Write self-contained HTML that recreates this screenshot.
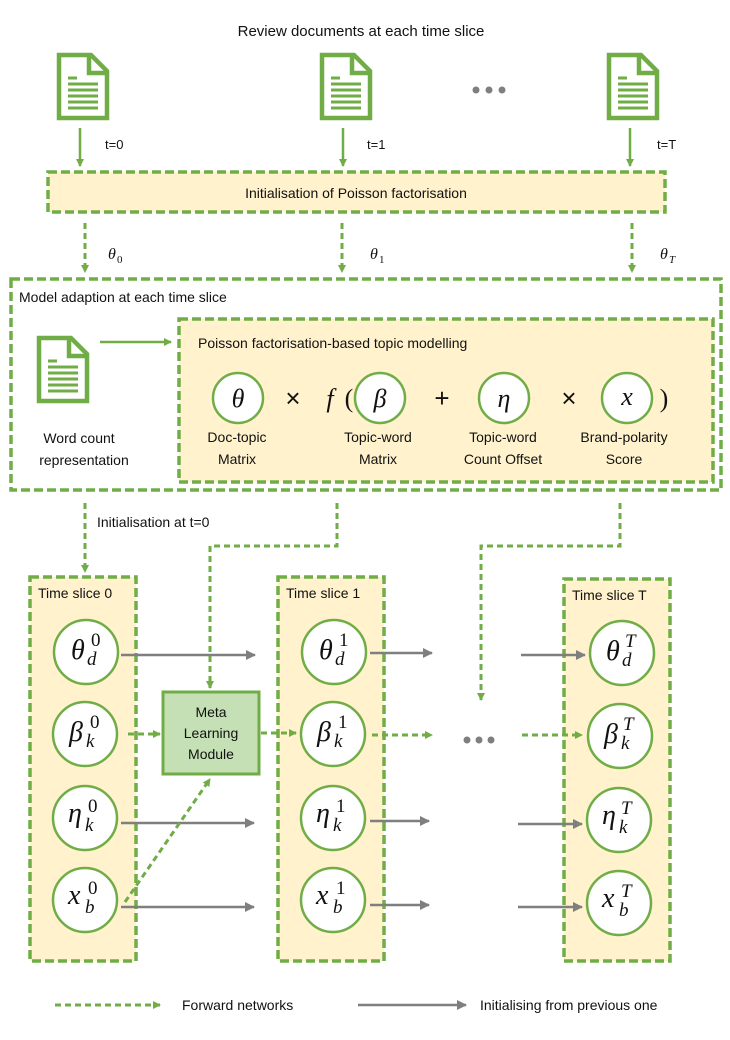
<!DOCTYPE html>
<html><head><meta charset="utf-8"><style>
html,body{margin:0;padding:0;background:#fff;}
svg{display:block;}
text{font-family:"Liberation Sans",sans-serif;fill:#111;}
.m{font-family:"Liberation Serif","DejaVu Serif",serif;font-style:italic;}
.n{font-family:"Liberation Serif","DejaVu Serif",serif;}
</style></head><body>
<svg width="730" height="1040" viewBox="0 0 730 1040" xmlns="http://www.w3.org/2000/svg">
<defs>
<marker id="ag" markerWidth="8" markerHeight="8" refX="7" refY="4" orient="auto" markerUnits="userSpaceOnUse"><path d="M0,0 L8,4 L0,8 z" fill="#70ad47"/></marker>
<marker id="ak" markerWidth="10" markerHeight="10" refX="9" refY="5" orient="auto" markerUnits="userSpaceOnUse"><path d="M0,0 L10,5 L0,10 z" fill="#7f7f7f"/></marker>
<g id="doc">
<path d="M2,2 H34 L50,18 V65 H2 Z" fill="#fff" stroke="#70ad47" stroke-width="4.5"/>
<path d="M32,2 V20 H50" fill="none" stroke="#70ad47" stroke-width="4.5"/>
<g stroke="#70ad47" stroke-width="3"><line x1="11" y1="25" x2="20" y2="25"/><line x1="11" y1="31" x2="41" y2="31"/><line x1="11" y1="37" x2="41" y2="37"/><line x1="11" y1="43" x2="41" y2="43"/><line x1="11" y1="49" x2="41" y2="49"/><line x1="11" y1="55" x2="41" y2="55"/></g>
</g>
</defs>
<text x="361" y="36" font-size="15" text-anchor="middle">Review documents at each time slice</text>
<use href="#doc" x="57" y="53"/>
<use href="#doc" x="320" y="53"/>
<use href="#doc" x="607" y="53"/>
<g fill="#7f7f7f"><circle cx="476" cy="90" r="3.5"/><circle cx="489" cy="90" r="3.5"/><circle cx="502" cy="90" r="3.5"/></g>
<g stroke="#70ad47" stroke-width="2.5" marker-end="url(#ag)">
<line x1="80" y1="128" x2="80" y2="166"/><line x1="343" y1="128" x2="343" y2="166"/><line x1="630" y1="128" x2="630" y2="166"/></g>
<text x="105" y="149" font-size="13">t=0</text><text x="367" y="149" font-size="13">t=1</text><text x="657" y="149" font-size="13">t=T</text>
<rect x="48" y="172" width="617" height="40" fill="#fff2cc" stroke="#70ad47" stroke-width="3.5" stroke-dasharray="9,4"/>
<text x="356" y="198" font-size="14" text-anchor="middle">Initialisation of Poisson factorisation</text>
<g stroke="#70ad47" stroke-width="3" stroke-dasharray="6,4" marker-end="url(#ag)">
<line x1="85" y1="223" x2="85" y2="272"/><line x1="342" y1="223" x2="342" y2="272"/><line x1="632" y1="223" x2="632" y2="272"/></g>
<text class="m" x="108" y="259" font-size="16">θ</text><text class="n" x="117" y="263" font-size="11">0</text>
<text class="m" x="370" y="259" font-size="16">θ</text><text class="n" x="379" y="263" font-size="11">1</text>
<text class="m" x="660" y="259" font-size="16">θ</text><text class="m" x="669" y="263" font-size="11">T</text>
<rect x="11" y="279" width="710" height="211" fill="#fff" stroke="#70ad47" stroke-width="3.5" stroke-dasharray="9,4"/>
<text x="19" y="302" font-size="14">Model adaption at each time slice</text>
<use href="#doc" x="37" y="336"/>
<line x1="100" y1="342" x2="171" y2="342" stroke="#70ad47" stroke-width="2.5" marker-end="url(#ag)"/>
<text x="79" y="443" font-size="14" text-anchor="middle">Word count</text>
<text x="84" y="465" font-size="14" text-anchor="middle">representation</text>
<rect x="179" y="319" width="534" height="163" fill="#fff2cc" stroke="#70ad47" stroke-width="3.5" stroke-dasharray="9,4"/>
<text x="198" y="348" font-size="14">Poisson factorisation-based topic modelling</text>
<g fill="#fff" stroke="#70ad47" stroke-width="2.5"><circle cx="238" cy="398" r="25"/><circle cx="380" cy="398" r="25"/><circle cx="504" cy="398" r="25"/><circle cx="627" cy="398" r="25"/></g>
<g font-size="26" text-anchor="middle">
<text class="m" x="238" y="407">θ</text><text class="m" x="380" y="407">β</text><text class="m" x="504" y="407">η</text><text class="m" x="627" y="405">x</text>
<text x="293" y="407">×</text><text x="442" y="407">+</text><text x="569" y="407">×</text>
<text class="m" x="330" y="407">f</text><text class="n" x="349" y="407">(</text><text class="n" x="664" y="407">)</text></g>
<g font-size="14" text-anchor="middle">
<text x="237" y="442">Doc-topic</text><text x="237" y="464">Matrix</text>
<text x="378" y="442">Topic-word</text><text x="378" y="464">Matrix</text>
<text x="503" y="442">Topic-word</text><text x="503" y="464">Count Offset</text>
<text x="624" y="442">Brand-polarity</text><text x="624" y="464">Score</text></g>
<g fill="none" stroke="#70ad47" stroke-width="3" stroke-dasharray="6,4">
<line x1="85" y1="503" x2="85" y2="572" marker-end="url(#ag)"/>
<path d="M337,503 V546 H210 V688" marker-end="url(#ag)"/>
<path d="M620,503 V546 H481 V700" marker-end="url(#ag)"/></g>
<text x="97" y="527" font-size="14">Initialisation at t=0</text>
<g fill="#fff2cc" stroke="#70ad47" stroke-width="3.5" stroke-dasharray="9,4">
<rect x="30" y="577" width="106" height="384"/><rect x="278" y="577" width="106" height="384"/><rect x="564" y="579" width="106" height="382"/></g>
<text x="38" y="598" font-size="14">Time slice 0</text><text x="286" y="598" font-size="14">Time slice 1</text><text x="572" y="600" font-size="14">Time slice T</text>
<rect x="163" y="692" width="96" height="82" fill="#c5e0b4" stroke="#70ad47" stroke-width="3"/>
<g font-size="14" text-anchor="middle"><text x="211" y="717">Meta</text><text x="211" y="738">Learning</text><text x="211" y="759">Module</text></g>
<g stroke="#7f7f7f" stroke-width="2.5" marker-end="url(#ak)">
<line x1="121" y1="655" x2="255" y2="655"/><line x1="121" y1="823" x2="254" y2="823"/><line x1="121" y1="907" x2="254" y2="907"/>
<line x1="370" y1="653" x2="432" y2="653"/><line x1="370" y1="821" x2="429" y2="821"/><line x1="370" y1="905" x2="429" y2="905"/>
<line x1="521" y1="655" x2="585" y2="655"/><line x1="518" y1="824" x2="582" y2="824"/><line x1="518" y1="907" x2="582" y2="907"/></g>
<g stroke="#70ad47" stroke-width="3" stroke-dasharray="6,4" marker-end="url(#ag)">
<line x1="128" y1="734" x2="160" y2="734"/><line x1="261" y1="733" x2="296" y2="733"/>
<line x1="372" y1="735" x2="432" y2="735"/><line x1="522" y1="735" x2="582" y2="735"/>
<line x1="125" y1="902" x2="210" y2="779"/></g>
<g fill="#7f7f7f"><circle cx="467" cy="740" r="3.5"/><circle cx="479" cy="740" r="3.5"/><circle cx="491" cy="740" r="3.5"/></g>
<g fill="#fff" stroke="#70ad47" stroke-width="2.5">
<circle cx="86" cy="652" r="32"/><circle cx="85" cy="734" r="32"/><circle cx="85" cy="818" r="32"/><circle cx="85" cy="900" r="32"/>
<circle cx="334" cy="652" r="32"/><circle cx="333" cy="734" r="32"/><circle cx="333" cy="818" r="32"/><circle cx="333" cy="900" r="32"/>
<circle cx="622" cy="653" r="32"/><circle cx="620" cy="736" r="32"/><circle cx="619" cy="820" r="32"/><circle cx="619" cy="903" r="32"/></g>
<!-- col 0 -->
<g font-size="28" class="m">
<text class="m" x="71" y="659">θ</text><text class="m" x="69" y="741">β</text><text class="m" x="68" y="822">η</text><text class="m" x="68" y="904">x</text>
<text class="m" x="319" y="659">θ</text><text class="m" x="317" y="741">β</text><text class="m" x="316" y="822">η</text><text class="m" x="316" y="904">x</text>
<text class="m" x="606" y="660">θ</text><text class="m" x="604" y="743">β</text><text class="m" x="602" y="824">η</text><text class="m" x="602" y="907">x</text>
</g>
<g font-size="19" class="n">
<text class="n" x="91" y="646">0</text><text class="n" x="90" y="728">0</text><text class="n" x="88" y="812">0</text><text class="n" x="88" y="894">0</text>
<text class="n" x="339" y="646">1</text><text class="n" x="338" y="728">1</text><text class="n" x="336" y="812">1</text><text class="n" x="336" y="894">1</text>
</g>
<g font-size="19">
<text class="m" x="625" y="647">T</text><text class="m" x="623" y="730">T</text><text class="m" x="621" y="814">T</text><text class="m" x="621" y="897">T</text>
<text class="m" x="87" y="665">d</text><text class="m" x="86" y="747">k</text><text class="m" x="85" y="831">k</text><text class="m" x="85" y="913">b</text>
<text class="m" x="335" y="665">d</text><text class="m" x="334" y="747">k</text><text class="m" x="333" y="831">k</text><text class="m" x="333" y="913">b</text>
<text class="m" x="622" y="666">d</text><text class="m" x="621" y="749">k</text><text class="m" x="619" y="833">k</text><text class="m" x="619" y="916">b</text>
</g>
<line x1="55" y1="1005" x2="160" y2="1005" stroke="#70ad47" stroke-width="3" stroke-dasharray="6,4" marker-end="url(#ag)"/>
<text x="182" y="1010" font-size="14">Forward networks</text>
<line x1="358" y1="1005" x2="466" y2="1005" stroke="#7f7f7f" stroke-width="2.5" marker-end="url(#ak)"/>
<text x="480" y="1010" font-size="14">Initialising from previous one</text>
</svg>
</body></html>
